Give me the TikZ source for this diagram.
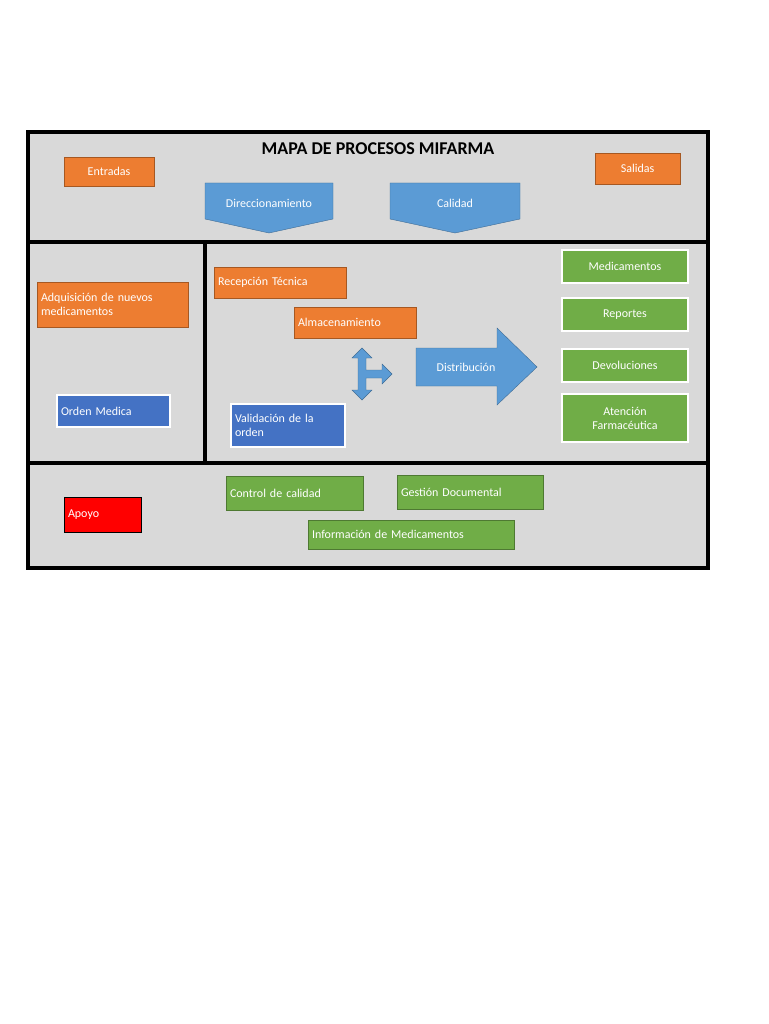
\documentclass[tikz,border=0pt]{standalone}
\usepackage{fontspec}
\setmainfont{Carlito}
\begin{document}
\begin{tikzpicture}[x=1pt,y=-1pt,
 bx/.style={draw=#1!70!black,fill=#1,text=white,inner sep=3pt,font=\fontsize{12}{14}\selectfont},
 org/.style={bx=orgc},grn/.style={draw=white,line width=1.2pt,fill=grnc,text=white,font=\fontsize{12}{14}\selectfont},
 blu/.style={draw=white,line width=1.2pt,fill=bluc,text=white,font=\fontsize{12}{14}\selectfont},
 arr/.style={draw=arrc!70!black,fill=arrc}]
\definecolor{orgc}{HTML}{ED7D31}\definecolor{grnc}{HTML}{70AD47}\definecolor{bluc}{HTML}{4472C4}
\definecolor{arrc}{HTML}{5B9BD5}\definecolor{bgc}{HTML}{D9D9D9}
\useasboundingbox (0,0) rectangle (768,1024);
\fill[white] (0,0) rectangle (768,1024);
\draw[line width=4pt,fill=bgc] (28,132) rectangle (708,568);
\draw[line width=4pt] (28,242) -- (708,242) (28,463) -- (708,463) (205,242) -- (205,463);
\node[font=\bfseries\fontsize{18}{20}\selectfont] (title) at (378,149) {MAPA DE PROCESOS MIFARMA};
\node[org,minimum width=90,minimum height=29] (ent) at (109,171.5) {Entradas};
\node[org,minimum width=85,minimum height=31] (sal) at (637.5,168.5) {Salidas};
\draw[arr] (205,183) -- (333,183) -- (333,219) -- (269,233) -- (205,219) -- cycle;
\node[text=white,font=\fontsize{12}{14}\selectfont] (dir) at (269,203) {Direccionamiento};
\draw[arr] (390,183) -- (520,183) -- (520,219) -- (455,233) -- (390,219) -- cycle;
\node[text=white,font=\fontsize{12}{14}\selectfont] (cal) at (455,203) {Calidad};
\node[org,minimum width=151,minimum height=45,align=left,text width=143] (adq) at (112.5,304.5) {Adquisición de nuevos\\medicamentos};
\node[blu,minimum width=113,minimum height=32,text width=105] (ord) at (113.5,411) {Orden Medica};
\node[org,minimum width=132,minimum height=31,text width=124] (rec) at (280,282.5) {Recepción Técnica};
\node[org,minimum width=122,minimum height=31,text width=114] (alm) at (355,322.5) {Almacenamiento};
\draw[arr] (362,348) -- (372,358) -- (366,358) -- (366,370) -- (382,370) -- (382,364) -- (392,374) -- (382,384) -- (382,378) -- (366,378) -- (366,390) -- (372,390) -- (362,400) -- (352,390) -- (358,390) -- (358,358) -- (352,358) -- cycle;
\draw[arr] (416,348) -- (497,348) -- (497,328) -- (537,367) -- (497,405) -- (497,386) -- (416,386) -- cycle;
\node[text=white,font=\fontsize{12}{14}\selectfont] (dis) at (466,367) {Distribución};
\node[blu,minimum width=114,minimum height=43,align=left,text width=106] (val) at (288,425.5) {Validación de la\\orden};
\node[grn,minimum width=126,minimum height=33] (med) at (625,266.5) {Medicamentos};
\node[grn,minimum width=126,minimum height=33] (rep) at (625,314.5) {Reportes};
\node[grn,minimum width=126,minimum height=33] (dev) at (625,365.5) {Devoluciones};
\node[grn,minimum width=126,minimum height=48,align=center] (ate) at (625,418) {Atención\\Farmacéutica};
\node[draw=black,fill=red,text=white,minimum width=77,minimum height=35,text width=69,font=\fontsize{12}{14}\selectfont] (apo) at (102.5,514.5) {Apoyo};
\node[bx=grnc,minimum width=137,minimum height=34,text width=129] (ctl) at (294.5,493) {Control de calidad};
\node[bx=grnc,minimum width=146,minimum height=34,text width=138] (ges) at (470,492) {Gestión Documental};
\node[bx=grnc,minimum width=206,minimum height=29,text width=198] (inf) at (411,534.5) {Información de Medicamentos};
\end{tikzpicture}
\end{document}
